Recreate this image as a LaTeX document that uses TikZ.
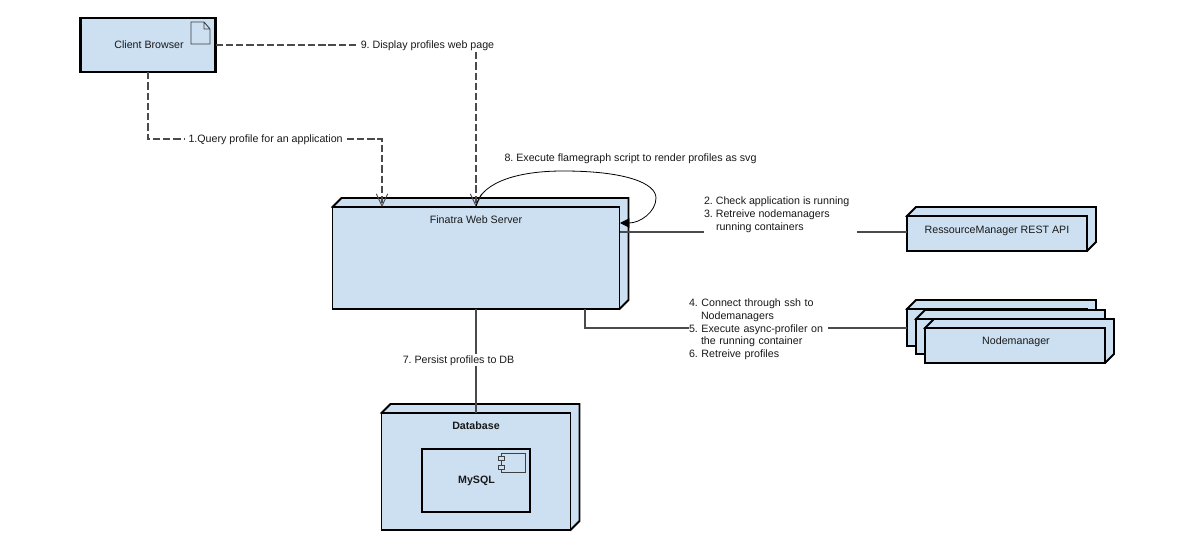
\documentclass[tikz,border=0pt]{standalone}
\usepackage{fontspec}
\setmainfont{Liberation Sans}
\usetikzlibrary{arrows.meta}
\definecolor{boxblue}{HTML}{CCE0F2}
\definecolor{linegray}{HTML}{4A4A4A}
\tikzset{
  dep/.style={draw=black,line width=1.4pt,fill=boxblue,anchor=north west,inner sep=0pt,outer sep=0pt,font=\fontsize{8}{9.5}\selectfont,align=center},
  depback/.style={draw=black,line width=1.4pt,fill=boxblue,line join=miter},
  icon/.style={draw=black!75,line width=0.7pt,fill=boxblue},
  conn/.style={draw=linegray,line width=0.9pt},
  dashconn/.style={conn,dash pattern=on 5.5pt off 2.2pt},
  openhead/.style={-{Straight Barb[length=9pt,width=8.5pt,line width=0.7pt]}},
  lbl/.style={font=\fontsize{8}{9.5}\selectfont,align=left,inner sep=0pt,outer sep=3pt,text=black!90},
  onelbl/.style={lbl,text height=7.4pt,text depth=1.7pt},
  boxlbl/.style={onelbl,anchor=center,outer sep=0pt},
}
\newcommand{\depnode}[7]{%
  \pgfmathsetmacro{\depW}{(#3-#1)*0.75}%
  \pgfmathsetmacro{\depH}{(#4-#2)*0.75}%
  \fill[depback] ({#1},{#2}) -- ({#1+#5},{#2-#5}) -- ({#3+#5},{#2-#5}) -- ({#3+#5},{#4-#5}) -- ({#3},{#4}) -- cycle;
  \node[dep,minimum width=\depW pt,minimum height=\depH pt] (#6) at (#1,#2) {#7};
}
\begin{document}
\frenchspacing
\begin{tikzpicture}[x=0.75pt,y=-0.75pt]
\useasboundingbox (0,0) rectangle (1200,548);
\fill[white] (0,0) rectangle (1200,548);
% client
\node[dep,line width=1.8pt,minimum width=101.25pt,minimum height=40.5pt] (client) at (80.5,18) {};
\node[boxlbl] (clientlbl) at (149,45) {Client Browser};
\draw[icon,fill=none] (191,22) -- (204,22) -- (210,29) -- (210,44) -- (191,44) -- cycle (204,22) -- (204,29) -- (210,29);
% server, nodes
\depnode{332.5}{207}{619.5}{309}{9}{web}{}
\node[boxlbl] (weblbl) at (476,220) {Finatra Web Server};
\depnode{907}{216}{1087}{251}{9}{res}{}
\node[boxlbl] (reslbl) at (997,229.5) {RessourceManager REST API};
\depnode{907}{309}{1087}{346}{9}{nma}{}
\depnode{916}{319}{1096}{354}{9}{nmb}{}
\depnode{925}{328}{1105}{363}{9}{nmc}{}
\node[boxlbl] (nmlbl) at (1016,341) {Nodemanager};
\depnode{381.5}{413}{570.5}{530}{9}{db}{}
\node[boxlbl,font=\fontsize{8}{9.5}\selectfont\bfseries] (dblbl) at (476,426) {Database};
\node[dep,minimum width=81pt,minimum height=47.25pt] (mysql) at (422,449) {};
\node[boxlbl,font=\fontsize{8}{9.5}\selectfont\bfseries] (mysqllbl) at (476.5,480) {MySQL};
\draw[icon,fill=none] (501,453.5) rectangle (525,472);
\draw[icon] (498,456) rectangle (504,460.5);
\draw[icon] (498,465) rectangle (504,469.5);
% labels
\node[onelbl] (l1) at (265.6,139) {1.Query profile for an application};
\node[onelbl] (l9) at (427.5,45) {9. Display profiles web page};
\node[onelbl,outer sep=0pt] (l8) at (630.5,158) {8. Execute flamegraph script to render profiles as svg};
\node[lbl,outer sep=0pt,anchor=north west] (l2) at (704,197) {2. Check application is running\\3. Retreive nodemanagers\\\hspace*{9pt}running containers};
\node[lbl,outer sep=0pt,anchor=west,text width=104.5pt] (l4) at (689,329.5) {4. Connect through ssh to\\\hspace*{9pt}Nodemanagers\\5. Execute async-profiler on\\\hspace*{9pt}the running container\\6. Retreive profiles};
\node[onelbl] (l7) at (458.5,360) {7. Persist profiles to DB};
% free ends
\coordinate (qend) at (382,207);
\coordinate (g1) at (704,232);
\coordinate (g2) at (857,232);
\coordinate (wsouth) at (585,309);
\coordinate (l9drop) at (476,52);
\coordinate (dbgap) at (476,354);
\coordinate (dbgapb) at (476,366);
\coordinate (l4w) at ([yshift=1.125pt]l4.west);
\coordinate (l4e) at ([yshift=1.125pt]l4.east);
% connectors
\draw[dashconn] (client.south) |- (l1.west);
\draw[dashconn,openhead] (l1.east) -| (qend);
\draw[dashconn] (client.east) -- (l9.west);
\draw[dashconn,openhead] (l9drop) -- (web.north);
\draw[conn] (res.west |- g2) -- (g2);
\draw[conn] (g1) -- (web.east |- g1);
\draw[conn] (wsouth) |- (l4w);
\draw[conn] (l4e) -- (nma.west |- l4e);
\draw[conn] (web.south) -- (dbgap);
\draw[conn] (dbgapb) -- (db.north);
\draw[line width=0.6pt,-{Triangle[length=7pt,width=7pt]}] (web.north) .. controls (479,186) and (510,171) .. (563,171) .. controls (625,171) and (656,183) .. (656,198) .. controls (656,212) and (640,223) .. (620,223);
\end{tikzpicture}
\end{document}
